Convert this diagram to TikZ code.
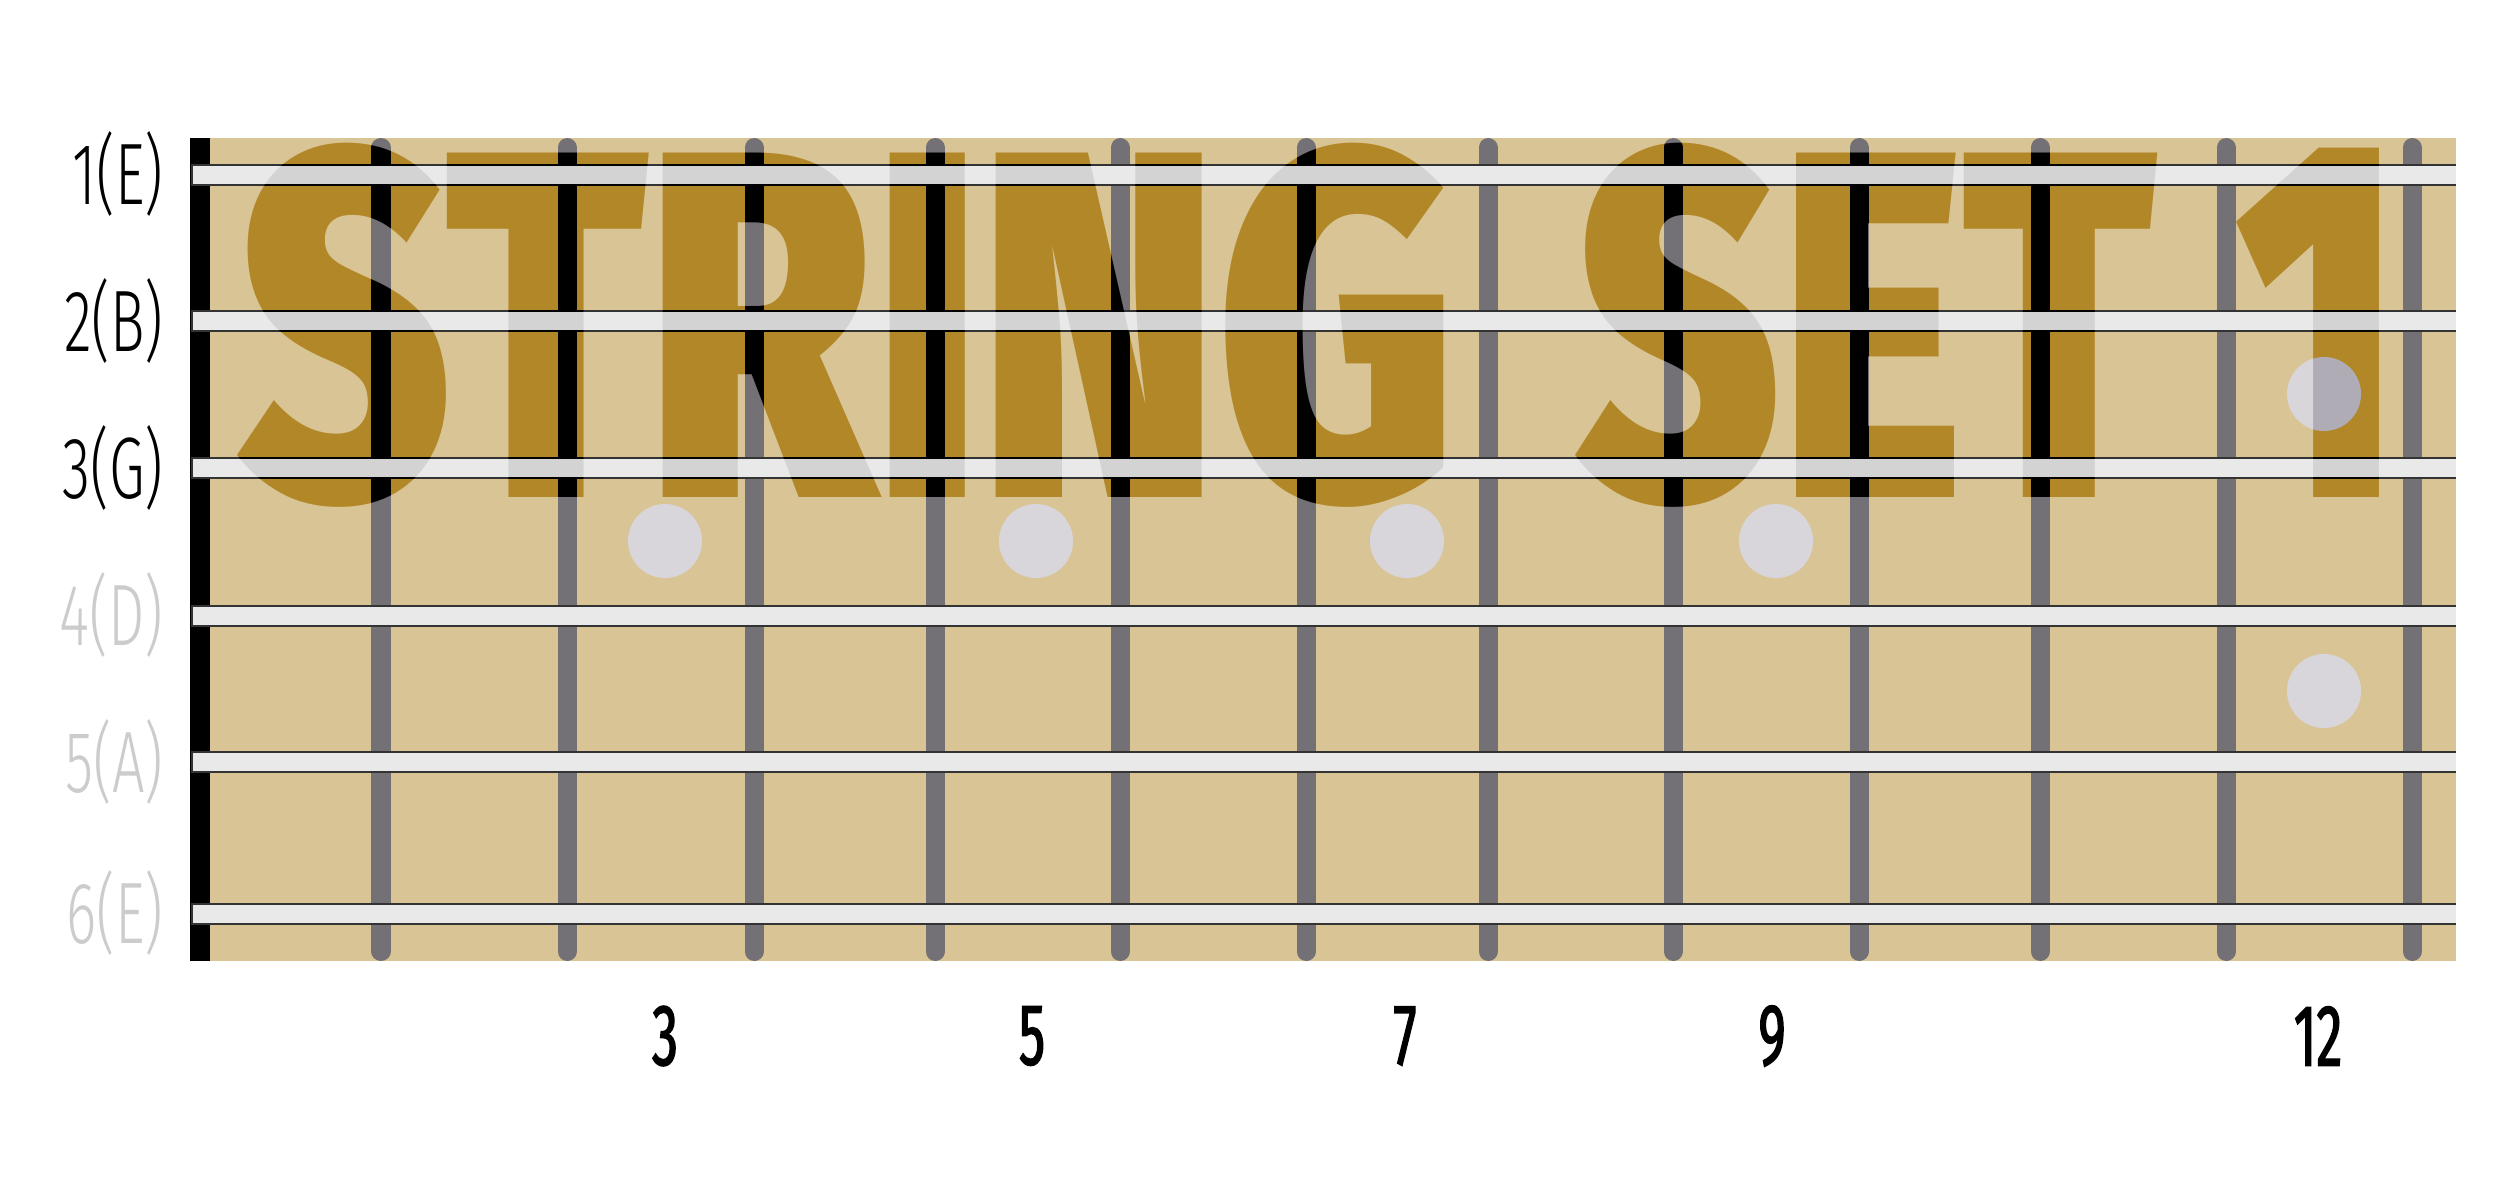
\documentclass[tikz,border=0pt]{standalone}
\usepackage{fontspec}
\usepackage{graphicx}
\usepackage{xcolor}
\usetikzlibrary{shapes}
\newfontfamily\lblfont[FakeStretch=0.66]{Fira Sans Light}
\newfontfamily\numfont[FakeStretch=0.6,FakeBold=1.5]{Fira Sans}
\let\titleweight\relax
\IfFontExistsTF{Fira Sans Black}{\newfontfamily\bigfont{Fira Sans Black}}{%
  \IfFontExistsTF{Fira Sans ExtraBold}{\newfontfamily\bigfont{Fira Sans ExtraBold}}{%
    \IfFontExistsTF{Lato Black}{\newfontfamily\bigfont{Lato Black}}{%
      \newfontfamily\bigfont{Fira Sans}\let\titleweight\bfseries}}}
\definecolor{board}{RGB}{217,196,149}
\definecolor{fretgray}{RGB}{115,113,118}
\definecolor{stringwhite}{RGB}{233,233,233}
\definecolor{stringedge}{RGB}{51,51,51}
\definecolor{inlaygray}{RGB}{216,214,219}
\definecolor{mutedgray}{RGB}{204,204,204}

\begin{document}
\begin{tikzpicture}[x=0.01cm,y=-0.01cm]
	\tikzstyle{fretbar}=[draw=fretgray,line width=0.19cm,line cap=round]
	\tikzstyle{nutbar}=[fill=black]
	\tikzstyle{stringfill}=[fill=stringwhite]
	\tikzstyle{stringline}=[draw=stringedge,line width=0.02cm]
	\tikzstyle{inlay}=[circle,fill=inlaygray,minimum size=0.74cm,inner sep=0pt]
	\tikzstyle{stringlbl}=[anchor=east,inner sep=0pt,font=\lblfont\fontsize{24.8}{26}\selectfont]
	\tikzstyle{mutedlbl}=[stringlbl,text=mutedgray]
	\tikzstyle{fretnum}=[inner sep=0pt,font=\numfont\fontsize{24.8}{26}\selectfont]
	\tikzstyle{titletext}=[anchor=base west,inner sep=0pt,text=black!51,font=\bigfont\titleweight]

	\useasboundingbox (0,0) rectangle (2500,1187);
	\fill[board] (190,138) rectangle (2456,961);
	\foreach \x in {381,567,754,935,1120,1306,1488,1673,1859,2040,2226,2412}
		\draw[fretbar] (\x,147.5) -- (\x,951.5);
	\fill[nutbar] (190,138) rectangle (210,961);
	\foreach \y in {175,321,468,615.5,762,913.5} {
		\fill[stringfill] (192,\y-10) rectangle (2456,\y+10);
		\draw[stringline] (2456,\y-10) -- (192,\y-10) -- (192,\y+10) -- (2456,\y+10);
	}

	\node[inlay] (d3) at (665,541) {};
	\node[inlay] (d5) at (1036,541) {};
	\node[inlay] (d7) at (1407,541) {};
	\node[inlay] (d9) at (1776,541) {};
	\node[inlay] (d12a) at (2324,394) {};
	\node[inlay] (d12b) at (2324,691) {};

	\node[stringlbl] (s1) at (164,174) {1(E)};
	\node[stringlbl] (s2) at (164,321) {2(B)};
	\node[stringlbl] (s3) at (164,468) {3(G)};
	\node[mutedlbl] (s4) at (164,615) {4(D)};
	\node[mutedlbl] (s5) at (164,762) {5(A)};
	\node[mutedlbl] (s6) at (164,913) {6(E)};

	\node[fretnum] (f3) at (665,1036) {3};
	\node[fretnum] (f5) at (1032,1036) {5};
	\node[fretnum] (f7) at (1405,1036) {7};
	\node[fretnum] (f9) at (1772,1036) {9};
	\node[fretnum] (f12) at (2318,1036) {12};

	\begin{scope}[blend mode=color burn]
		\node[titletext] (w1) at (237,497) {\resizebox{12.17cm}{3.54cm}{STRING}};
		\node[titletext] (w2) at (1575,497) {\resizebox{5.80cm}{3.54cm}{SET}};
		\node[titletext] (w3) at (2236,497) {\resizebox{1.65cm}{3.49cm}{1}};
	\end{scope}
\end{tikzpicture}
\end{document}
